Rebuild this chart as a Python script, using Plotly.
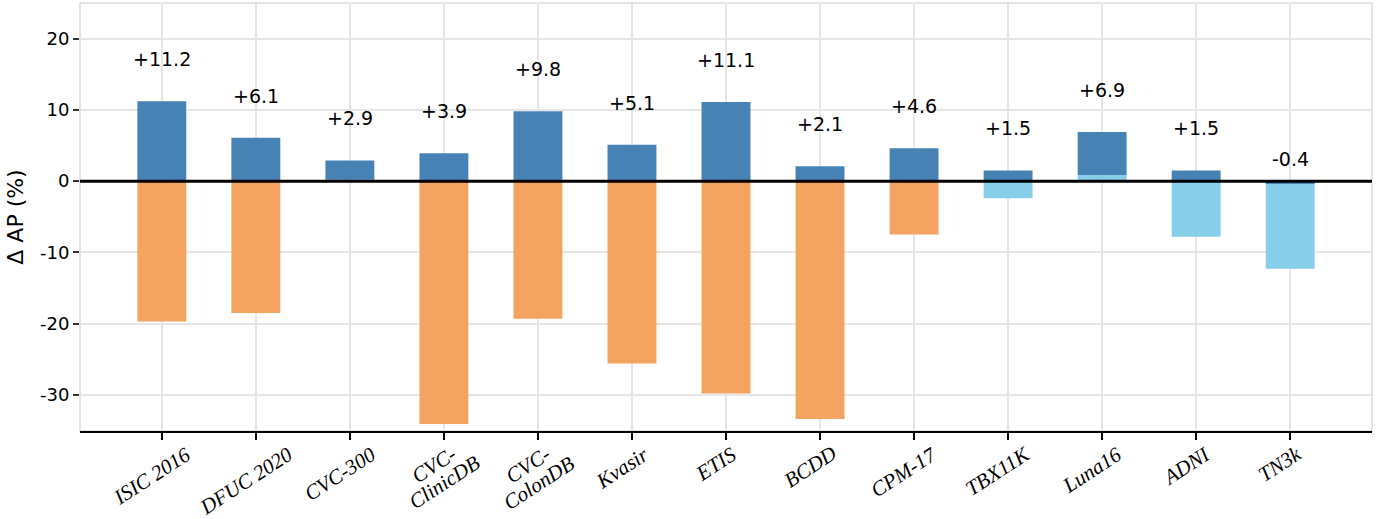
import plotly.graph_objects as go

categories = ["ISIC 2016", "DFUC 2020", "CVC-300", "CVC-\nClinicDB", "CVC-\nColonDB",
              "Kvasir", "ETIS", "BCDD", "CPM-17", "TBX11K", "Luna16", "ADNI", "TN3k"]
delta_ap = [11.2, 6.1, 2.9, 3.9, 9.8, 5.1, 11.1, 2.1, 4.6, 1.5, 6.9, 1.5, -0.4]
baseline_ap = [-19.7, -18.5, 0.2, -34.1, -19.3, -25.6, -29.8, -33.4, -7.5, -2.4, 0.85, -7.8, -12.3]
groups = ["a"] * 9 + ["b"] * 4
ytick_vals = [20, 10, 0, -10, -20, -30]
ytick_text = ["20", "10", "0", "-10", "-20", "-30"]

group_colors = {"a": "#F4A460", "b": "#87CEEB"}
dark = "#4682B4"

x_idx = list(range(len(categories)))
front_base = [b if (d > 0 and b > 0) else 0 for d, b in zip(delta_ap, baseline_ap)]
front_len = [d - fb for d, fb in zip(delta_ap, front_base)]

fig = go.Figure()
fig.add_trace(go.Bar(x=x_idx, y=baseline_ap, width=0.52,
                     marker=dict(color=[group_colors[g] for g in groups], line=dict(width=0)),
                     showlegend=False, hoverinfo="skip"))
fig.add_trace(go.Bar(x=x_idx, y=front_len, base=front_base, width=0.52,
                     marker=dict(color=dark, line=dict(width=0)), showlegend=False,
                     hoverinfo="skip"))

# value labels
for i, d in enumerate(delta_ap):
    fig.add_annotation(x=i, y=max(d, 0), xref="x", yref="y", text=f"{d:+.1f}",
                       showarrow=False, yanchor="bottom", yshift=29 if d > 0 else 9,
                       font=dict(family="DejaVu Sans", size=19, color="black"))

# category labels (rotated, centred under tick; multi-line labels drawn line by line)
for i, c in enumerate(categories):
    for k, line in enumerate(c.split("\n")):
        fig.add_annotation(x=i, y=0, xref="x", yref="paper", text=line, showarrow=False,
                           textangle=-33, xanchor="center", yanchor="top",
                           yshift=-8 - 9 * k, xshift=-10 + 11 * k,
                           font=dict(family="Liberation Serif", size=21, color="black",
                                     style="italic"))

# zero reference line above bars
fig.add_shape(type="line", xref="paper", yref="y", x0=0, x1=1, y0=0, y1=0,
              line=dict(color="black", width=3), layer="above")
# light frame
fig.add_shape(type="rect", xref="paper", yref="paper", x0=0, x1=1, y0=0, y1=1,
              line=dict(color="#dddddd", width=1.5), layer="below")

fig.update_layout(
    width=1376, height=519,
    margin=dict(l=80, r=4, t=3, b=88),
    barmode="overlay",
    plot_bgcolor="white", paper_bgcolor="white",
    font=dict(family="DejaVu Sans", size=18, color="black"),
)
fig.update_xaxes(range=[-0.87, 12.87], tickvals=x_idx, showticklabels=False,
                 showgrid=True, gridcolor="#e6e6e6", gridwidth=2,
                 showline=True, linecolor="black", linewidth=2,
                 ticks="outside", ticklen=7, tickwidth=1.5, tickcolor="black", zeroline=False)
fig.update_yaxes(range=[-35.07, 25], tickvals=ytick_vals, ticktext=ytick_text,
                 showgrid=True, gridcolor="#e6e6e6", gridwidth=2, zeroline=False,
                 showline=False, ticks="outside", ticklen=6, tickwidth=1.5, tickcolor="#333333",
                 tickfont=dict(family="DejaVu Sans", size=18),
                 title=dict(text="Δ AP (%)", font=dict(family="DejaVu Sans", size=22), standoff=10))

fig.write_html("out.html", config={"displayModeBar": False},
               post_script="document.body.style.margin='0';document.body.style.overflow='hidden';")
